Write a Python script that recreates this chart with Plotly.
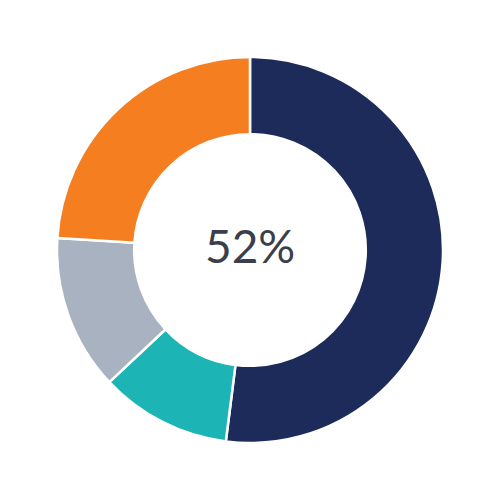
import plotly.graph_objects as go

labels = ["Navy", "Teal", "Grey", "Orange"]
values = [52, 11, 13, 24]
colors = ["#1c2b5a", "#1db4b6", "#a8b2c1", "#f47e20"]
center_text = "52%"

fig = go.Figure()
fig.add_trace(go.Pie(
    labels=labels,
    values=values,
    hole=0.6,
    sort=False,
    direction="clockwise",
    rotation=0,
    marker=dict(colors=colors, line=dict(color="white", width=2.5)),
    textinfo="none",
    hoverinfo="label+percent",
    showlegend=False,
))
# page adds ~8px offset, so shift the pie up/left
fig.update_layout(
    width=500, height=500,
    margin=dict(l=49, r=65, t=49, b=65),
    paper_bgcolor="white",
    plot_bgcolor="white",
    annotations=[dict(text=center_text, x=0.5, y=0.5, xref="paper", yref="paper",
                      yshift=5, showarrow=False,
                      font=dict(family="Lato", size=46, color="#3a3f4b"))],
)
fig.write_html("out.html")
